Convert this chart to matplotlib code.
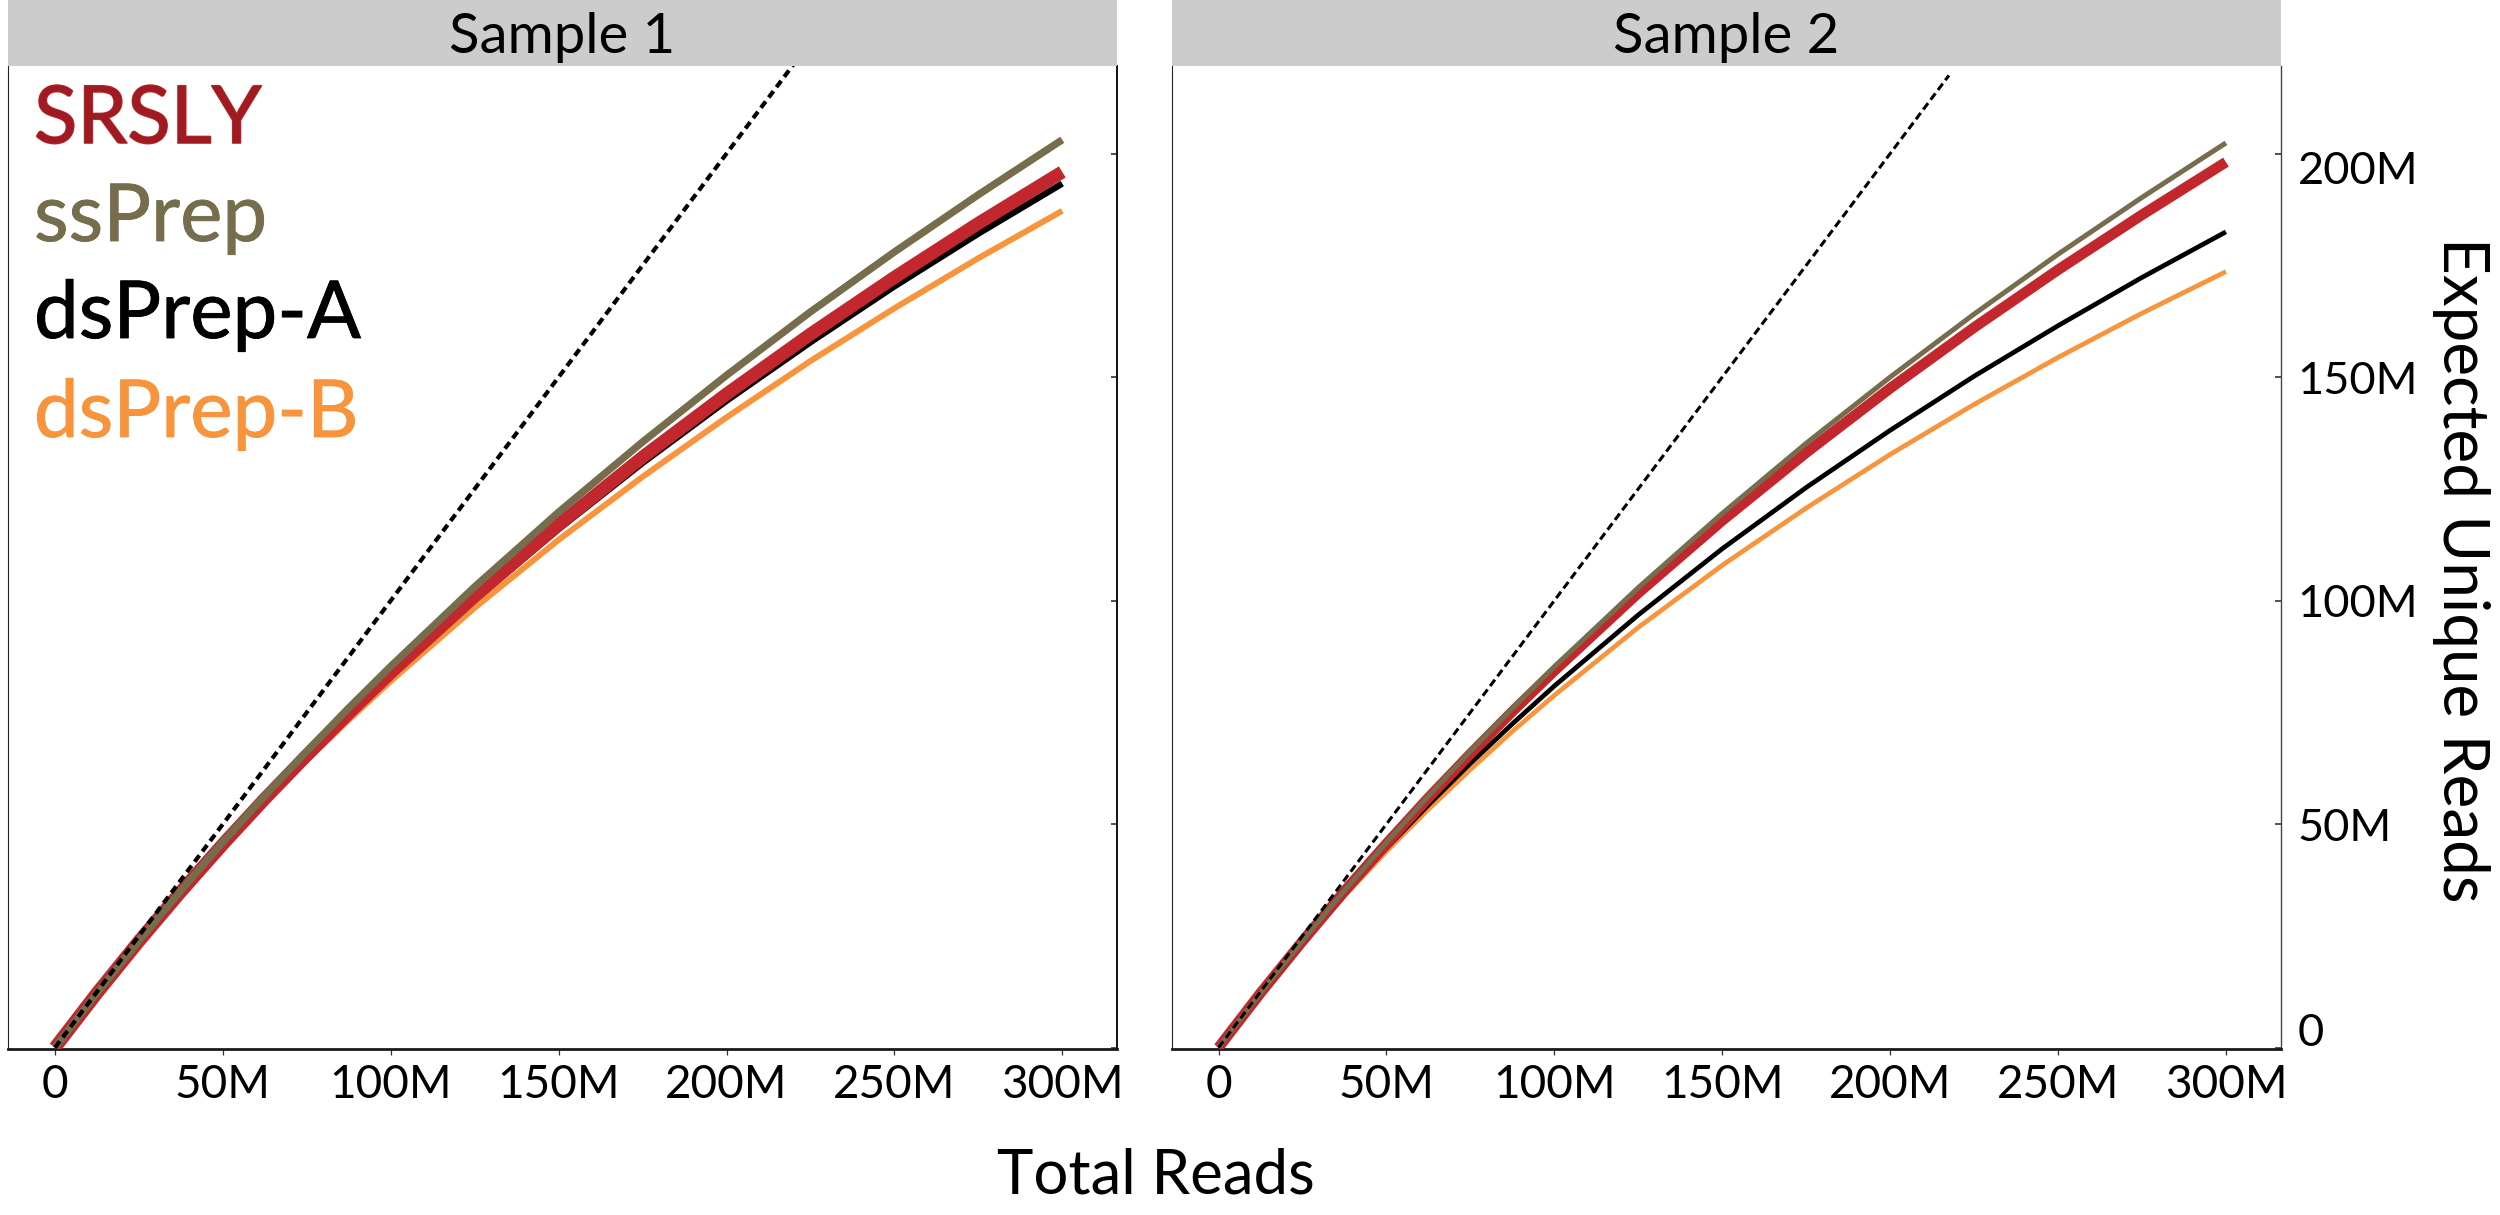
import matplotlib
matplotlib.use('Agg')
import matplotlib.pyplot as plt
from matplotlib.patches import Rectangle
import matplotlib.patheffects as pe
from matplotlib.transforms import ScaledTranslation

plt.rcParams['font.family'] = ['Lato', 'DejaVu Sans']

# ---------------- data (millions of reads) ----------------
total_reads = [0, 12.5, 25, 37.5, 50, 62.5, 75, 87.5, 100, 125, 150, 175, 200, 225, 250, 275, 300]
panels = ['Sample 1', 'Sample 2']
series_names = ['SRSLY', 'ssPrep', 'dsPrep-A', 'dsPrep-B']

s1_srsly = [0, 12.19, 23.8, 34.89, 45.5, 55.67, 65.4, 74.82, 83.9, 101.0, 117.0, 132.1, 146.2, 159.6, 172.3, 184.4, 195.9]
s1_ssprep = [0, 12.23, 23.9, 35.16, 46.0, 56.34, 66.3, 76.00, 85.3, 103.1, 119.8, 135.5, 150.4, 164.6, 178.0, 190.8, 203.1]
s1_dsprepA = [0, 12.18, 23.8, 34.79, 45.3, 55.42, 65.1, 74.38, 83.3, 100.2, 116.0, 130.8, 144.7, 157.8, 170.3, 182.1, 193.3]
s1_dsprepB = [0, 12.15, 23.6, 34.54, 44.9, 54.80, 64.3, 73.30, 82.0, 98.4, 113.6, 127.7, 141.0, 153.6, 165.4, 176.6, 187.2]

s2_srsly = [0, 12.20, 23.8, 34.98, 45.6, 55.88, 65.7, 75.19, 84.3, 101.7, 117.9, 133.1, 147.5, 161.1, 174.0, 186.3, 198.1]
s2_ssprep = [0, 12.22, 23.9, 35.14, 45.9, 56.28, 66.3, 75.90, 85.2, 102.9, 119.5, 135.2, 150.0, 164.1, 177.5, 190.2, 202.4]
s2_dsprepA = [0, 12.12, 23.5, 34.33, 44.6, 54.30, 63.6, 72.43, 80.9, 96.8, 111.6, 125.3, 138.1, 150.2, 161.5, 172.3, 182.5]
s2_dsprepB = [0, 12.07, 23.3, 33.92, 43.9, 53.31, 62.2, 70.74, 78.8, 94.0, 107.9, 120.7, 132.7, 143.9, 154.4, 164.3, 173.6]

diag_end = [222, 217.5]   # extent of the y = x reference line per panel

x_ticks = [0, 50, 100, 150, 200, 250, 300]
x_tick_labels = ['0', '50M', '100M', '150M', '200M', '250M', '300M']
y_ticks = [0, 50, 100, 150, 200]
y_tick_labels = ['0', '50M', '100M', '150M', '200M']

# ---------------- styles ----------------
colors = {'SRSLY': '#C1272D', 'ssPrep': '#756D4B', 'dsPrep-A': '#000000', 'dsPrep-B': '#F7943C'}
legend_colors = {'SRSLY': '#9E1B22', 'ssPrep': '#756D4B', 'dsPrep-A': '#000000', 'dsPrep-B': '#F7943C'}
widths = [
    {'SRSLY': 9.4, 'ssPrep': 5.3, 'dsPrep-A': 4.6, 'dsPrep-B': 4.3},
    {'SRSLY': 7.6, 'ssPrep': 3.6, 'dsPrep-A': 3.4, 'dsPrep-B': 3.4},
]
diag_lw = [3.0, 2.2]
diag_dash = [(1.9, 1.2), (2.6, 1.4)]
draw_order = ['dsPrep-B', 'dsPrep-A', 'SRSLY', 'ssPrep']

data = [
    {'SRSLY': s1_srsly, 'ssPrep': s1_ssprep, 'dsPrep-A': s1_dsprepA, 'dsPrep-B': s1_dsprepB},
    {'SRSLY': s2_srsly, 'ssPrep': s2_ssprep, 'dsPrep-A': s2_dsprepA, 'dsPrep-B': s2_dsprepB},
]

W, H = 2500, 1215
fig = plt.figure(figsize=(W / 100, H / 100), dpi=100)

# axes boxes in pixel coords: (left, right)
boxes = [(8, 1117), (1171.5, 2280.7)]
top_px, bottom_px = 66, 1048.5

axes = []
for i, (l, r) in enumerate(boxes):
    ax = fig.add_axes([l / W, 1 - bottom_px / H, (r - l) / W, (bottom_px - top_px) / H])
    axes.append(ax)
    for name in draw_order:
        ax.plot(total_reads, data[i][name], color=colors[name], lw=widths[i][name],
                solid_capstyle='butt', solid_joinstyle='round', zorder=3)
    ax.plot([0, diag_end[i]], [0, diag_end[i]], color='black', lw=diag_lw[i],
            linestyle=(0, diag_dash[i]), dash_capstyle='butt', zorder=4)
    ax.set_xlim(-14, 316.3)
    ax.set_ylim(-0.2, 219.6)
    ax.set_xticks(x_ticks)
    ax.set_xticklabels(x_tick_labels, fontsize=33)
    ax.tick_params(axis='x', direction='out', length=4.3, width=0.9, pad=7.0, color='#333333')
    ax.yaxis.tick_right()
    ax.set_yticks(y_ticks)
    ax.tick_params(axis='y', direction='in', length=4.5, width=1.1, pad=12.2, color='#222222',
                   labelsize=32.5)
    ax.spines['top'].set_visible(False)
    ax.spines['left'].set_linewidth(0.8)
    ax.spines['left'].set_color('#222222')
    ax.spines['bottom'].set_linewidth(2.0)
    ax.spines['bottom'].set_color('#1a1a1a')
    ax.spines['right'].set_linewidth(1.4 if i == 0 else 1.0)
    ax.spines['right'].set_color('#111111' if i == 0 else '#444444')
    if i == 0:
        ax.set_yticklabels([''] * len(y_ticks))
    else:
        ax.set_yticklabels(y_tick_labels)
        for lab in ax.get_yticklabels():
            t = lab.get_text()
            if t == '200M':
                lab.set_transform(lab.get_transform() + ScaledTranslation(0, -14 / 100, fig.dpi_scale_trans))
            elif t == '0':
                lab.set_transform(lab.get_transform() + ScaledTranslation(0, 18 / 100, fig.dpi_scale_trans))

    # facet strip
    fig.patches.append(Rectangle((l / W, 1 - top_px / H), (r - l) / W, top_px / H,
                                 transform=fig.transFigure, facecolor='#CCCCCC',
                                 edgecolor='none', zorder=0))
    fig.text((l + r) / 2 / W, 1 - 53 / H, panels[i], ha='center', va='baseline',
             fontsize=40.5, color='black')

# legend as coloured text
legend_baselines = [143, 241, 338, 437]
for name, yb in zip(series_names, legend_baselines):
    t = fig.text(34 / W, 1 - yb / H, name, ha='left', va='baseline', fontsize=57.5,
                 color=legend_colors[name])
    if name == 'SRSLY':
        t.set_path_effects([pe.withStroke(linewidth=1.2, foreground='#C1272D')])
    else:
        t.set_path_effects([pe.withStroke(linewidth=0.6, foreground=legend_colors[name])])

fig.text(1156 / W, 1 - 1193 / H, 'Total Reads', ha='center', va='baseline', fontsize=44.5)
fig.text(2461 / W, 1 - 570 / H, 'Expected Unique Reads', ha='center', va='center',
         rotation=270, fontsize=46)

fig.savefig('out.png', dpi=100)
